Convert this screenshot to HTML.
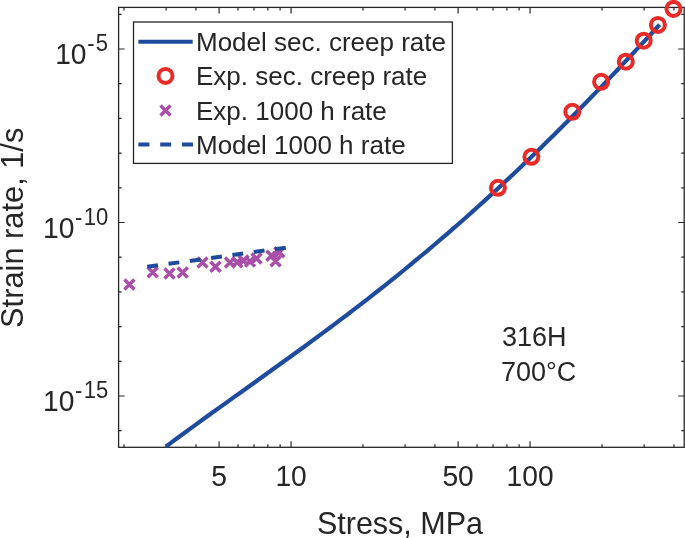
<!DOCTYPE html>
<html><head><meta charset="utf-8"><style>
html,body{margin:0;padding:0;background:#fff;overflow:hidden}
svg{display:block}
text{font-family:"Liberation Sans",Arial,Helvetica,sans-serif;fill:#262626}
</style></head><body>
<svg width="685" height="538" viewBox="0 0 685 538">
<rect x="0" y="0" width="685" height="538" fill="#fff"/>

<path d="M219.11 447.3V441.3M219.11 7.4V13.4M291.05 447.3V441.3M291.05 7.4V13.4M458.11 447.3V441.3M458.11 7.4V13.4M530.05 447.3V441.3M530.05 7.4V13.4M124.00 447.3V444.3M124.00 7.4V10.4M166.09 447.3V444.3M166.09 7.4V10.4M195.95 447.3V444.3M195.95 7.4V10.4M238.03 447.3V444.3M238.03 7.4V10.4M254.03 447.3V444.3M254.03 7.4V10.4M267.89 447.3V444.3M267.89 7.4V10.4M280.12 447.3V444.3M280.12 7.4V10.4M363.00 447.3V444.3M363.00 7.4V10.4M405.09 447.3V444.3M405.09 7.4V10.4M434.95 447.3V444.3M434.95 7.4V10.4M477.03 447.3V444.3M477.03 7.4V10.4M493.03 447.3V444.3M493.03 7.4V10.4M506.89 447.3V444.3M506.89 7.4V10.4M519.12 447.3V444.3M519.12 7.4V10.4M602.00 447.3V444.3M602.00 7.4V10.4M644.09 447.3V444.3M644.09 7.4V10.4M673.95 447.3V444.3M673.95 7.4V10.4M118.6 14.30H121.6M684.2 14.30H681.2M118.6 49.00H124.6M684.2 49.00H678.2M118.6 83.70H121.6M684.2 83.70H681.2M118.6 118.40H121.6M684.2 118.40H681.2M118.6 153.10H121.6M684.2 153.10H681.2M118.6 187.80H121.6M684.2 187.80H681.2M118.6 222.50H124.6M684.2 222.50H678.2M118.6 257.20H121.6M684.2 257.20H681.2M118.6 291.90H121.6M684.2 291.90H681.2M118.6 326.60H121.6M684.2 326.60H681.2M118.6 361.30H121.6M684.2 361.30H681.2M118.6 396.00H124.6M684.2 396.00H678.2M118.6 430.70H121.6M684.2 430.70H681.2" stroke="#262626" stroke-width="1.2" fill="none"/>
<rect x="118.6" y="7.4" width="565.6" height="439.90000000000003" fill="none" stroke="#262626" stroke-width="1.3"/>
<path d="M166.0 446.5 L172.2 441.9 L178.5 437.2 L184.7 432.7 L191.0 428.1 L197.2 423.6 L203.5 419.0 L209.7 414.5 L216.0 410.0 L222.2 405.6 L228.5 401.1 L234.7 396.6 L241.0 392.2 L247.2 387.7 L253.5 383.2 L259.7 378.8 L266.0 374.3 L272.2 369.8 L278.5 365.3 L284.7 360.8 L291.0 356.3 L297.2 351.8 L303.5 347.2 L309.7 342.6 L316.0 338.0 L322.2 333.4 L328.5 328.8 L334.7 324.1 L340.9 319.4 L347.2 314.7 L353.4 309.9 L359.7 305.1 L365.9 300.3 L372.2 295.4 L378.4 290.5 L384.7 285.6 L390.9 280.6 L397.2 275.6 L403.4 270.5 L409.7 265.4 L415.9 260.2 L422.2 255.0 L428.4 249.8 L434.7 244.5 L440.9 239.2 L447.2 233.8 L453.4 228.4 L459.7 223.0 L465.9 217.5 L472.2 211.9 L478.4 206.3 L484.7 200.6 L490.9 194.9 L497.1 189.2 L503.4 183.4 L509.6 177.6 L515.9 171.7 L522.1 165.8 L528.4 159.8 L534.6 153.8 L540.9 147.7 L547.1 141.6 L553.4 135.4 L559.6 129.2 L565.9 123.0 L572.1 116.7 L578.4 110.3 L584.6 104.0 L590.9 97.5 L597.1 91.1 L603.4 84.6 L609.6 78.1 L615.9 71.5 L622.1 64.9 L628.4 58.3 L634.6 51.6 L640.9 44.9 L647.1 38.2 L653.4 31.5 L659.6 24.7" stroke="#1f4b9e" stroke-width="4.2" fill="none" stroke-linejoin="round"/>
<path d="M124.4 279.6L134.4 289.6M124.4 289.6L134.4 279.6M147.7 267.2L157.7 277.2M147.7 277.2L157.7 267.2M164.5 268.5L174.5 278.5M164.5 278.5L174.5 268.5M177.7 267.6L187.7 277.6M177.7 277.6L187.7 267.6M197.5 257.4L207.5 267.4M197.5 267.4L207.5 257.4M210.5 261.8L220.5 271.8M210.5 271.8L220.5 261.8M225.0 257.5L235.0 267.5M225.0 267.5L235.0 257.5M232.2 257.3L242.2 267.3M232.2 267.3L242.2 257.3M238.5 255.5L248.5 265.5M238.5 265.5L248.5 255.5M245.0 256.5L255.0 266.5M245.0 266.5L255.0 256.5M251.5 253.5L261.5 263.5M251.5 263.5L261.5 253.5M266.5 250.8L276.5 260.8M266.5 260.8L276.5 250.8M270.6 256.3L280.6 266.3M270.6 266.3L280.6 256.3M274.3 247.3L284.3 257.3M274.3 257.3L284.3 247.3" stroke="#a94ea9" stroke-width="3.5" fill="none"/>
<path d="M147.2 266.8 L286.1 247.6" stroke="#1f4b9e" stroke-width="4" fill="none" stroke-dasharray="10.9 10.6"/>
<circle cx="497.9" cy="187.8" r="7" fill="none" stroke="#e92a26" stroke-width="4"/>
<circle cx="531.4" cy="156.8" r="7" fill="none" stroke="#e92a26" stroke-width="4"/>
<circle cx="572.3" cy="111.8" r="7" fill="none" stroke="#e92a26" stroke-width="4"/>
<circle cx="601.1" cy="81.8" r="7" fill="none" stroke="#e92a26" stroke-width="4"/>
<circle cx="625.8" cy="61.7" r="7" fill="none" stroke="#e92a26" stroke-width="4"/>
<circle cx="643.7" cy="40.7" r="7" fill="none" stroke="#e92a26" stroke-width="4"/>
<circle cx="657.9" cy="24.9" r="7" fill="none" stroke="#e92a26" stroke-width="4"/>
<circle cx="673.5" cy="8.9" r="7" fill="none" stroke="#e92a26" stroke-width="4"/>
<rect x="133.5" y="22" width="318.9" height="141.4" fill="#fff" stroke="#262626" stroke-width="1.3"/>
<path d="M138.4 41.8H192.7" stroke="#1f4b9e" stroke-width="4"/>
<circle cx="165.5" cy="75.9" r="7" fill="none" stroke="#e92a26" stroke-width="4"/>
<path d="M160.5 105.4L170.5 115.4M160.5 115.4L170.5 105.4" stroke="#a94ea9" stroke-width="3.5"/>
<path d="M138.4 144.6H193" stroke="#1f4b9e" stroke-width="4" stroke-dasharray="11 10.8"/>
<text x="196" y="51.2" font-size="26">Model sec. creep rate</text>
<text x="196" y="85.1" font-size="26">Exp. sec. creep rate</text>
<text x="196" y="120.2" font-size="26">Exp. 1000 h rate</text>
<text x="196" y="154.4" font-size="26">Model 1000 h rate</text>
<text transform="translate(55.16,64.30) scale(0.94,1)" font-size="30.0">10</text>
<text transform="translate(87.22,51.10) scale(0.9,1)" font-size="24.5">-<tspan dx="1.4">5</tspan></text>
<text transform="translate(43.06,237.90) scale(0.94,1)" font-size="30.0">10</text>
<text transform="translate(75.12,224.70) scale(0.9,1)" font-size="24.5">-<tspan dx="1.4">10</tspan></text>
<text transform="translate(43.06,411.30) scale(0.94,1)" font-size="30.0">10</text>
<text transform="translate(75.12,398.10) scale(0.9,1)" font-size="24.5">-<tspan dx="1.4">15</tspan></text>
<text transform="translate(219.1,485.6) scale(0.94,1)" font-size="30" text-anchor="middle">5</text>
<text transform="translate(291.1,485.6) scale(0.94,1)" font-size="30" text-anchor="middle">10</text>
<text transform="translate(458.1,485.6) scale(0.94,1)" font-size="30" text-anchor="middle">50</text>
<text transform="translate(530.1,485.6) scale(0.94,1)" font-size="30" text-anchor="middle">100</text>
<text x="400" y="534" font-size="30.5" text-anchor="middle">Stress, MPa</text>
<text transform="translate(22.5,227.8) rotate(-90)" x="0" y="0" font-size="30.8" text-anchor="middle">Strain rate, 1/s</text>
<text x="502" y="345.9" font-size="27">316H</text>
<text x="501" y="381" font-size="27">700°C</text>
</svg></body></html>
